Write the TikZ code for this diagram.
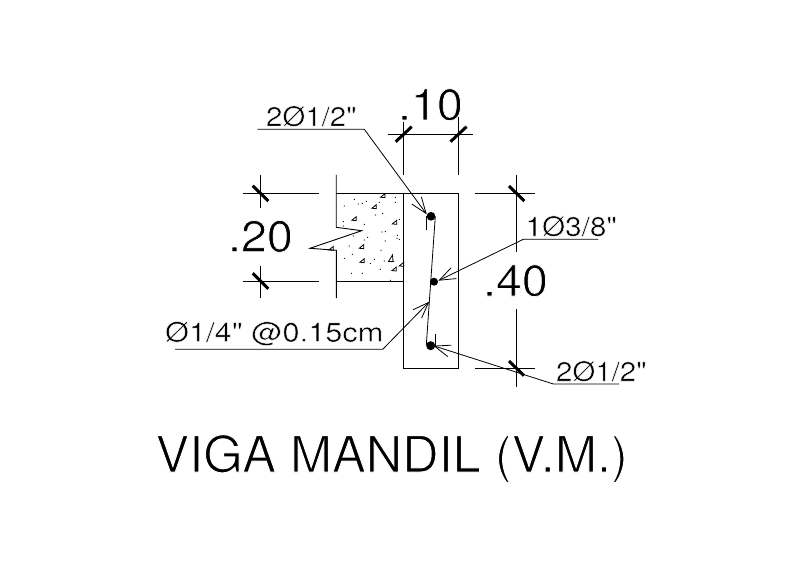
\documentclass[tikz,border=0pt]{standalone}
\usepackage{fontspec}
\usepackage{graphicx}
\setmainfont{TeX Gyre Heros}[Ligatures=TeXOff]
\usetikzlibrary{arrows.meta}
\newcommand{\thintext}[3]{\scalebox{#2}[1]{\special{pdf:code q 2 Tr 1 1 1 RG #1 w}#3\special{pdf:code 0 Tr Q}}}
\tikzset{
  x=1pt,y=-1pt,
  ln/.style={line width=0.9pt,black},
  thin line/.style={line width=0.8pt,black},
  tick/.style={line width=3pt,black},
  leader/.style={line width=0.8pt,black,-{Straight Barb[length=16pt,width=12pt,line width=0.8pt]}},
  rebar/.style={circle,fill=black,inner sep=0pt,minimum size=#1},
  lbl/.style={anchor=base west,inner sep=0pt,outer sep=0pt,font=\fontsize{27}{27}\selectfont},
  dim/.style={anchor=base west,inner sep=0pt,outer sep=0pt,font=\fontsize{44}{44}\selectfont},
  ttl/.style={anchor=base west,inner sep=0pt,outer sep=0pt,font=\fontsize{50}{50}\selectfont},
  aggr/.style={line width=0.8pt,black},
}
\begin{document}
\begin{tikzpicture}
\useasboundingbox (0,0) rectangle (800,580);
\fill[white] (0,0) rectangle (800,580);
% labels
\node[dim] (d10) at (398,120) {\thintext{0.7}{1.06}{.10}};
\node[dim] (d20) at (228,251.7) {\thintext{0.7}{1.06}{.20}};
\node[dim] (d40) at (483,296) {\thintext{0.7}{1.06}{.40}};
\node[lbl] (l1) at (266,126) {\thintext{0.45}{1.09}{2Ø1/2"}};
\node[lbl] (l2) at (525.5,236) {\thintext{0.45}{1.1}{1Ø3/8"}};
\node[lbl] (l3) at (556,381) {\thintext{0.45}{1.09}{2Ø1/2"}};
\node[lbl] (l4) at (165,341.7) {\thintext{0.45}{1.14}{Ø1/4" @0.15cm}};
\node[ttl] (title) at (155.5,472) {\thintext{1.0}{1.01}{VIGA MANDIL (V.M.)}};
% beam and slab
\draw[ln] (403.5,193.3) rectangle (458.6,368.3);
\draw[ln] (336.2,175) -- (336.2,227.3) -- (361.7,230.7) -- (310,248.3) -- (336.3,250.3) -- (336.3,298);
\draw[ln] (336.2,193.3) -- (403.5,193.3);
\draw[ln] (336.3,281.2) -- (403.5,281.2);
% concrete dots
\foreach \a/\b in {163/58,133/78,175/72,187/70,199/64,238/67,286/52,286/67,226/105,248/100,130/125,130/138,193/133,298/118,246/156,256/155,203/172,193/180,160/168,292/166,291/175,298/178,256/183,148/198,243/211,157/223,133/235,223/238,211/250,253/243,241/268,154/280,187/280,271/301}
  \fill ({300+\a/3},{180+\b/3}) circle (0.6);
% concrete aggregate
\foreach \a/\b in {249/47,223/80,163/116,284/127,185/200,187/242,283/267,305/253,94/205}
  \draw[aggr] ({300+\a/3-2.4},{180+\b/3+1.6}) -- ({300+\a/3+2},{180+\b/3-2}) -- ({300+\a/3+2},{180+\b/3+2}) -- cycle;
\draw[aggr] (388.5,261.5) -- (392.5,255) -- (393,261.5) -- cycle (393,261.5)--(394,261.5);
% .10 dimension
\draw[thin line] (403.5,122) -- (403.5,175.5);
\draw[thin line] (458.6,117) -- (458.6,175.5);
\draw[thin line] (388,134) -- (472.7,134);
\draw[tick] (395.7,141.7) -- (411.7,126.7);
\draw[tick] (450.5,141.7) -- (466.5,126.7);
% .20 dimension
\draw[thin line] (260.6,175) -- (260.6,208);
\draw[thin line] (260.6,266) -- (260.6,298);
\draw[thin line] (243.3,193.3) -- (319,193.3);
\draw[thin line] (243.3,281.1) -- (319,281.1);
\draw[tick] (252.7,185.7) -- (268.3,201);
\draw[tick] (252.7,273.3) -- (268.3,288.7);
% .40 dimension
\draw[thin line] (516.3,175) -- (516.3,252);
\draw[thin line] (516.3,309) -- (516.3,387);
\draw[thin line] (475,193.3) -- (534.7,193.3);
\draw[thin line] (475,368.3) -- (534.7,368.3);
\draw[tick] (509,186) -- (524.3,201);
\draw[tick] (509,361) -- (524,375.7);
% rebars
\node[rebar=8.8pt] (barTop) at (431,216.3) {};
\node[rebar=8pt] (barMid) at (434,281.7) {};
\node[rebar=9pt] (barBot) at (430.7,345.7) {};
% stirrup
\draw[thin line] (426.7,216.3) -- (426.7,230);
\draw[thin line] (435.3,216.3) -- (426.3,345);
\draw[thin line] (435.3,334) -- (435.3,345.7);
% leaders
\coordinate (tipTop) at (426.7,214.3);
\coordinate (tipMid) at (438.3,280.7);
\coordinate (tipSt) at (429.3,301.7);
\coordinate (tipBot) at (433.3,345.7);
\coordinate (a1) at (257.3,129.3);
\coordinate (a2) at (364.3,129.3);
\coordinate (b1) at (598.3,239.3);
\coordinate (b2) at (523.3,239.3);
\coordinate (c1) at (175,349.3);
\coordinate (c2) at (382.7,349.3);
\coordinate (d1) at (619,384);
\coordinate (d2) at (553.3,384);
\draw[leader] (a1) -- (a2) -- (tipTop);
\draw[leader] (b1) -- (b2) -- (tipMid);
\draw[leader] (c1) -- (c2) -- (tipSt);
\draw[leader] (d1) -- (d2) -- (tipBot);
\end{tikzpicture}
\end{document}
